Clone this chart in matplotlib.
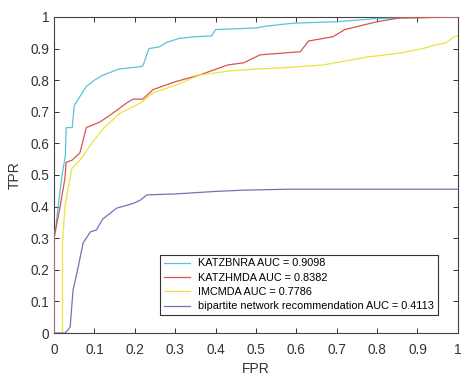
import matplotlib
matplotlib.use("Agg")
import matplotlib.pyplot as plt

plt.rcParams['font.family'] = ['Liberation Sans', 'DejaVu Sans']

# KATZBNRA
fpr_bnra = [0, 0, 0.005, 0.01, 0.015, 0.02, 0.028, 0.03, 0.045, 0.05, 0.06, 0.07, 0.08, 0.09, 0.1,
            0.12, 0.14, 0.16, 0.18, 0.21, 0.22, 0.235, 0.26, 0.28, 0.31, 0.345, 0.39, 0.40,
            0.5, 0.52, 0.59, 0.7, 0.8, 0.9, 1.0]
tpr_bnra = [0, 0.3, 0.34, 0.4, 0.45, 0.5, 0.56, 0.65, 0.65, 0.72, 0.74, 0.76, 0.78, 0.79, 0.80,
            0.815, 0.825, 0.835, 0.838, 0.842, 0.845, 0.9, 0.905, 0.92, 0.932, 0.937, 0.94, 0.96,
            0.965, 0.97, 0.98, 0.985, 0.995, 0.997, 1.0]

# KATZHMDA
fpr_hmda = [0, 0, 0.015, 0.027, 0.03, 0.045, 0.064, 0.08, 0.114, 0.146, 0.18, 0.196, 0.22,
            0.245, 0.30, 0.36, 0.43, 0.47, 0.51, 0.61, 0.63, 0.69, 0.72, 0.8, 0.857, 1.0]
tpr_hmda = [0, 0.3, 0.40, 0.49, 0.54, 0.547, 0.57, 0.65, 0.668, 0.696, 0.728, 0.74, 0.74,
            0.77, 0.795, 0.816, 0.848, 0.855, 0.88, 0.89, 0.924, 0.937, 0.96, 0.985, 0.997, 1.0]

# IMCMDA
fpr_imc = [0, 0.021, 0.021, 0.027, 0.035, 0.044, 0.068, 0.093, 0.122, 0.163, 0.213, 0.245,
           0.304, 0.36, 0.44, 0.5, 0.576, 0.666, 0.775, 0.857, 0.913, 0.94, 0.97, 0.99, 1.0]
tpr_imc = [0, 0, 0.285, 0.40, 0.46, 0.52, 0.553, 0.60, 0.647, 0.695, 0.727, 0.76,
           0.785, 0.816, 0.83, 0.835, 0.84, 0.848, 0.873, 0.886, 0.90, 0.91, 0.918, 0.937, 0.94]

# bipartite network recommendation
fpr_bnr = [0, 0.027, 0.035, 0.04, 0.047, 0.06, 0.072, 0.09, 0.105, 0.12, 0.155, 0.196,
           0.213, 0.23, 0.3, 0.4, 0.47, 0.58, 1.0]
tpr_bnr = [0, 0, 0.01, 0.02, 0.135, 0.21, 0.285, 0.32, 0.326, 0.36, 0.395, 0.41,
           0.42, 0.437, 0.44, 0.448, 0.452, 0.455, 0.455]

labels = ['KATZBNRA AUC = 0.9098', 'KATZHMDA AUC = 0.8382',
          'IMCMDA AUC = 0.7786', 'bipartite network recommendation AUC = 0.4113']
ticks = [0, 0.1, 0.2, 0.3, 0.4, 0.5, 0.6, 0.7, 0.8, 0.9, 1]
tick_labels = ['0', '0.1', '0.2', '0.3', '0.4', '0.5', '0.6', '0.7', '0.8', '0.9', '1']

fig = plt.figure(figsize=(4.74, 3.85), dpi=100)
ax = fig.add_axes([0.114, 0.135, 0.852, 0.821])

ax.plot(fpr_bnra, tpr_bnra, color='#5ac3da', lw=0.9, label=labels[0], zorder=3)
ax.plot(fpr_hmda, tpr_hmda, color='#d8544c', lw=0.9, label=labels[1], zorder=3)
ax.plot(fpr_imc, tpr_imc, color='#ece43a', lw=0.9, label=labels[2], zorder=3)
ax.plot(fpr_bnr, tpr_bnr, color='#7f6cb8', lw=0.9, label=labels[3], zorder=3)

ax.set_xlim(0, 1)
ax.set_ylim(0, 1)
ax.set_xticks(ticks)
ax.set_xticklabels(tick_labels)
ax.set_yticks(ticks)
ax.set_yticklabels(tick_labels)
ax.tick_params(direction='in', length=3.5, width=0.7, top=True, right=True,
               labelsize=9.8, colors='#333333')
ax.tick_params(axis='x', pad=7)
ax.tick_params(axis='y', pad=3.5)
for s in ax.spines.values():
    s.set_color('#444444')
    s.set_linewidth(0.8)

ax.set_xlabel('FPR', fontsize=10, color='#333333', labelpad=4)
ax.set_ylabel('TPR', fontsize=10, color='#333333', labelpad=6)

leg = ax.legend(loc='lower right', bbox_to_anchor=(0.963, 0.041), fontsize=7.8,
                handlelength=2.4, labelspacing=0.4, borderpad=0.3,
                fancybox=False, framealpha=1, edgecolor='#333333')
leg.get_frame().set_linewidth(0.8)

fig.savefig('out.png', dpi=100)
